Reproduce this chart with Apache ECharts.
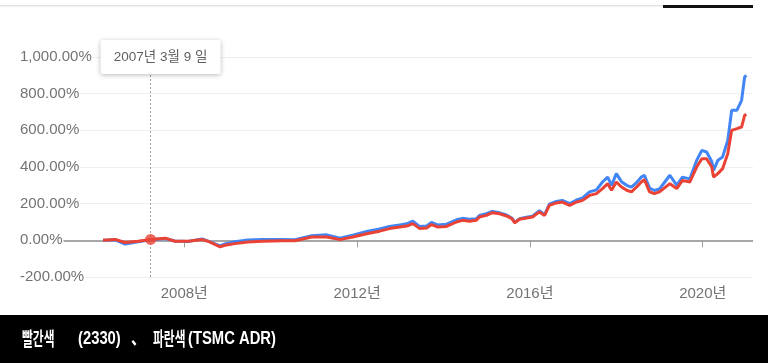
<!DOCTYPE html>
<html><head><meta charset="utf-8">
<script src="https://cdn.jsdelivr.net/npm/echarts@6/dist/echarts.min.js"></script>
<style>html,body{margin:0;padding:0;background:#fff}#c{width:768px;height:363px}</style>
</head><body><div id="c"></div>
<script>
// decimal years
const dates = [2006.12,2006.40,2006.63,2006.93,2007.22,2007.56,2007.78,2008.09,2008.41,2008.55,2008.83,2008.94,2009.17,2009.47,2009.80,2010.26,2010.56,2010.95,2011.30,2011.60,2011.90,2012.22,2012.52,2012.75,2012.99,2013.15,2013.29,2013.45,2013.61,2013.72,2013.86,2014.07,2014.30,2014.44,2014.60,2014.76,2014.83,2014.99,2015.13,2015.30,2015.46,2015.58,2015.65,2015.76,2015.92,2016.06,2016.22,2016.34,2016.45,2016.61,2016.75,2016.92,2017.08,2017.22,2017.38,2017.54,2017.68,2017.80,2017.89,2018.00,2018.12,2018.24,2018.35,2018.47,2018.58,2018.65,2018.77,2018.88,2019.00,2019.24,2019.40,2019.53,2019.70,2019.86,2019.98,2020.09,2020.21,2020.25,2020.35,2020.46,2020.58,2020.67,2020.79,2020.90,2020.97,2021.01];
const redVals = [0,5,-12,-5,5,12,-5,-5,4,-5,-36,-27,-18,-9,-5,-2,-2,18,18,4,18,36,50,64,73,78,91,64,67,86,73,76,100,109,104,109,127,136,151,145,133,118,96,115,122,127,155,136,191,204,209,191,209,218,245,255,282,309,273,318,291,273,264,291,318,331,264,255,264,309,282,327,318,400,445,445,400,345,364,391,473,600,609,618,682,687];
const blueVals = [0,3,-20,-8,3,10,-3,-6,8,-4,-30,-20,-8,2,5,5,3,25,30,12,28,48,62,75,84,90,105,75,78,98,84,88,112,120,115,118,136,145,158,150,138,122,98,118,126,132,162,140,198,212,218,200,220,232,264,275,318,345,300,364,320,300,290,315,345,355,285,272,280,355,300,345,335,436,491,482,430,382,436,455,545,709,709,764,891,900];
const xTickYears = [2008, 2012, 2016, 2020];
const yMin = -200, yMax = 1000, yStep = 200;
const markerDate = 2007.22;
const markerText = '2007년 3월 9 일';
const captionParts = ['빨간색', '(2330)', '、', '파란색', '(TSMC ADR)'];

const RED = '#ea4335', BLUE = '#4285f4';
const LAT = "'Liberation Sans', Arial, 'Noto Sans CJK KR', sans-serif";
const CJK = "'Noto Sans CJK KR', sans-serif";
const zip = (a, b) => a.map((v, i) => [v, b[i]]);
const mi = dates.indexOf(markerDate);
function fmtPct(v) {
  const neg = v < 0; let s = Math.abs(v).toFixed(2);
  let [ip, dp] = s.split('.');
  ip = ip.replace(/\B(?=(\d{3})+(?!\d))/g, ',');
  return (neg ? '-' : '') + ip + '.' + dp + '%';
}
const nLines = (yMax - yMin) / yStep + 1;
const zeroIdx = (0 - yMin) / yStep;
const lightColors = [], zeroColors = [];
for (let i = 0; i < nLines; i++) {
  lightColors.push(i === zeroIdx ? 'rgba(0,0,0,0)' : '#efefef');
  zeroColors.push(i === zeroIdx ? '#8a8a8a' : 'rgba(0,0,0,0)');
}

const chart = echarts.init(document.getElementById('c'));
chart.setOption({
  animation: false,
  grid: { left: 20, right: 15, top: 57, bottom: 86, outerBoundsMode: 'none' },
  xAxis: {
    type: 'value', min: 2004.197, max: 2021.164,
    axisLine: { show: false }, splitLine: { show: false },
    axisTick: { show: true, customValues: xTickYears, length: 7, lineStyle: { color: '#9e9e9e' } },
    axisLabel: { customValues: xTickYears, formatter: v => v + '년', color: '#737373', fontSize: 15, fontFamily: LAT, margin: 9 }
  },
  yAxis: [{
    type: 'value', min: yMin, max: yMax, interval: yStep, z: 1,
    axisLine: { show: false }, axisTick: { show: false },
    splitLine: { lineStyle: { color: lightColors, width: 1 } },
    axisLabel: { inside: true, margin: 0, formatter: fmtPct, color: '#737373', fontSize: 15, fontFamily: LAT, backgroundColor: '#fff', padding: [2, 1, 2, 0] }
  }, {
    type: 'value', min: yMin, max: yMax, interval: yStep, z: 0, position: 'left',
    axisLine: { show: false }, axisTick: { show: false }, axisLabel: { show: false },
    splitLine: { lineStyle: { color: zeroColors, width: 1.5 } }
  }],
  series: [
    { type: 'line', name: 'TSMC ADR', data: zip(dates, blueVals), showSymbol: false, z: 2,
      lineStyle: { color: BLUE, width: 3 }, itemStyle: { color: BLUE },
      markLine: { silent: true, symbol: 'none', label: { show: false },
        data: [{ xAxis: markerDate, lineStyle: { color: '#9e9e9e', width: 1, type: [2, 2] } }] } },
    { type: 'line', name: '2330', data: zip(dates, redVals), showSymbol: false, z: 3,
      lineStyle: { color: RED, width: 3 }, itemStyle: { color: RED } },
    { type: 'scatter', data: [[markerDate, redVals[mi]]], symbolSize: 11, z: 5, itemStyle: { color: RED } }
  ]
});

const p = chart.convertToPixel({ xAxisIndex: 0, yAxisIndex: 0 }, [markerDate, yMax]);
const gr = [
  { type: 'rect', z: 100, shape: { x: 0, y: 5, width: 753, height: 1.5 }, style: { fill: '#e3e3e3' } },
  { type: 'rect', z: 101, shape: { x: 663, y: 5, width: 90, height: 3 }, style: { fill: '#111' } },
  { type: 'rect', z: 100, shape: { x: p[0] - 50, y: p[1] - 17, width: 120, height: 34, r: 2 },
    style: { fill: '#fff', shadowBlur: 5, shadowColor: 'rgba(0,0,0,0.28)', shadowOffsetY: 1 } },
  { type: 'text', z: 101, x: p[0] + 10, y: p[1],
    style: { text: markerText, fill: '#5f5f5f', font: '13.5px ' + LAT, textAlign: 'center', textVerticalAlign: 'middle', align: 'center', verticalAlign: 'middle' } },
  { type: 'rect', z: 100, shape: { x: 0, y: 315, width: 768, height: 48 }, style: { fill: '#000' } }
];
const capX = [22, 78, 131, 153, 188];
captionParts.forEach((t, i) => {
  const isK = /[\uAC00-\uD7A3]/.test(t);
  gr.push({ type: 'text', z: 101, x: capX[i], y: 339, scaleX: isK ? 0.62 : 0.8,
    style: { text: t, fill: '#fff', font: 'bold ' + (isK ? '19px ' + CJK : '18.5px ' + LAT), textVerticalAlign: 'middle', verticalAlign: 'middle' } });
});
chart.setOption({ graphic: gr });
</script></body></html>
